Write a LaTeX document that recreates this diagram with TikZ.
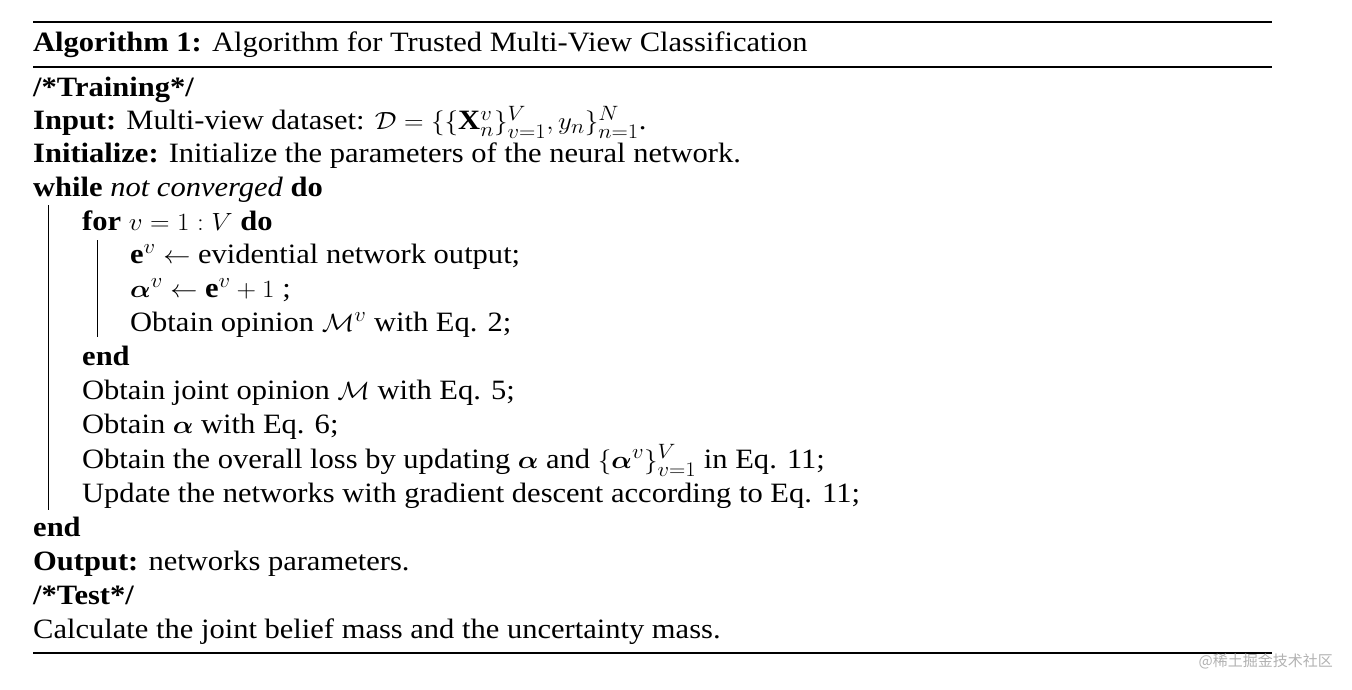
\documentclass[tikz,border=0pt]{standalone}
\usepackage{amsmath,bm}
\usepackage{fontspec}
\setmainfont{Liberation Serif}
\newfontfamily\cjk{Noto Sans CJK SC}
\newcommand{\wid}[1]{\scalebox{1.09}[1]{#1}}
\begin{document}
\begin{tikzpicture}[x=1pt,y=-1pt,
  ln/.style={anchor=base west,inner sep=0pt,font=\fontsize{28}{34}\selectfont},
  rule/.style={line width=2pt},
  bar/.style={line width=1pt}]
\useasboundingbox (0,0) rectangle (1352,690);
\draw[rule] (33,22) -- (1272,22);
\draw[line width=1.3pt] (33,67) -- (1272,67);
\draw[line width=1.3pt] (33,653) -- (1272,653);
\node[ln] (t0) at (33,52) {\wid{\textbf{Algorithm 1:} Algorithm for Trusted Multi-View Classification}};
\node[ln] (t1) at (33,97) {\wid{\textbf{/*Training*/}}};
\node[ln] (t2) at (33,130) {\wid{\textbf{Input:} Multi-view dataset: $\mathcal{D}=\{\{\mathbf{X}_n^v\}_{v=1}^{V},y_n\}_{n=1}^{N}$.}};
\node[ln] (t3) at (33,163) {\wid{\textbf{Initialize:} Initialize the parameters of the neural network.}};
\node[ln] (t4) at (33,196) {\wid{\textbf{while} \textit{not converged} \textbf{do}}};
\node[ln] (t5) at (82,230) {\wid{\textbf{for} $v=1:V$ \textbf{do}}};
\node[ln] (t6) at (130,263) {\wid{$\mathbf{e}^v\leftarrow$ evidential network output;}};
\node[ln] (t7) at (130,297) {\wid{$\bm{\alpha}^v\leftarrow\mathbf{e}^v+1$ ;}};
\node[ln] (t8) at (130,331) {\wid{Obtain opinion $\mathcal{M}^v$ with Eq. 2;}};
\node[ln] (t9) at (82,365) {\wid{\textbf{end}}};
\node[ln] (t10) at (82,399) {\wid{Obtain joint opinion $\mathcal{M}$ with Eq. 5;}};
\node[ln] (t11) at (82,433) {\wid{Obtain $\bm{\alpha}$ with Eq. 6;}};
\node[ln] (t12) at (82,468) {\wid{Obtain the overall loss by updating $\bm{\alpha}$ and $\{\bm{\alpha}^v\}_{v=1}^{V}$ in Eq. 11;}};
\node[ln] (t13) at (82,502) {\wid{Update the networks with gradient descent according to Eq. 11;}};
\node[ln] (t14) at (33,536) {\wid{\textbf{end}}};
\node[ln] (t15) at (33,570) {\wid{\textbf{Output:} networks parameters.}};
\node[ln] (t16) at (33,604) {\wid{\textbf{/*Test*/}}};
\node[ln] (t17) at (33,638) {\wid{Calculate the joint belief mass and the uncertainty mass.}};
\draw[bar] (48,205) -- (48,510);
\draw[bar] (97,240) -- (97,337);
\node[anchor=base east,inner sep=0pt,text=gray!60,font=\cjk\fontsize{15}{18}\selectfont] (wm) at (1333,666) {@稀土掘金技术社区};
\end{tikzpicture}
\end{document}
